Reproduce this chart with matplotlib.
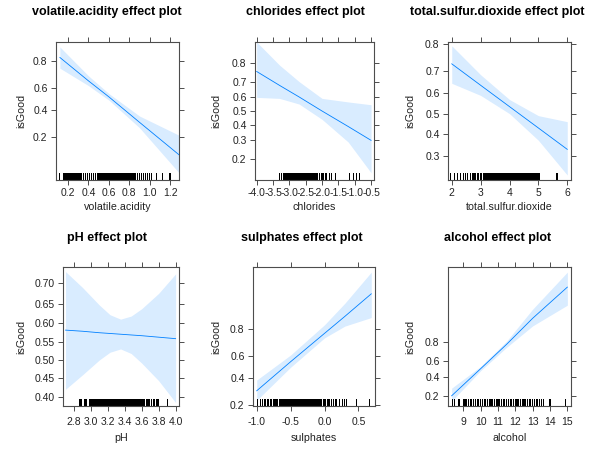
import matplotlib
matplotlib.use("Agg")
import matplotlib.pyplot as plt
from matplotlib.ticker import FixedLocator, FixedFormatter, NullLocator

plt.rcParams["font.family"] = ["Liberation Sans", "DejaVu Sans"]
plt.rcParams["axes.unicode_minus"] = False

W, H = 596, 450
LINE = "#0080FF"
BAND = "#D9ECFF"

# volatile.acidity
va_x = [0.12, 0.4, 0.6, 0.9, 1.29]
va_fit = [0.82, 0.66, 0.52, 0.30, 0.115]
va_lo = [0.755, 0.62, 0.49, 0.26, 0.063]
va_hi = [0.87, 0.70, 0.55, 0.35, 0.21]
va_rug = [0.12, 0.16, 0.18, 0.19, 0.20, 0.21, 0.22, 0.23, 0.24, 0.25, 0.26, 0.27, 0.28, 0.29, 0.30,
          0.31, 0.32, 0.33, 0.35, 0.37, 0.39, 0.41, 0.43, 0.45, 0.47, 0.49, 0.50, 0.51, 0.52, 0.53,
          0.54, 0.55, 0.56, 0.57, 0.58, 0.59, 0.60, 0.61, 0.62, 0.63, 0.64, 0.65, 0.66, 0.67, 0.68,
          0.69, 0.70, 0.71, 0.72, 0.73, 0.74, 0.75, 0.76, 0.77, 0.78, 0.79, 0.80, 0.81, 0.82, 0.83,
          0.84, 0.85, 0.86, 0.88, 0.90, 0.92, 0.94, 0.96, 0.98, 1.00, 1.02, 1.07, 1.13, 1.20]

# chlorides (log)
chl_x = [-4.0, -3.3, -2.7, -2.0, -1.2, -0.5]
chl_fit = [0.758, 0.677, 0.60, 0.50, 0.39, 0.30]
chl_lo = [0.597, 0.59, 0.55, 0.44, 0.29, 0.144]
chl_hi = [0.88, 0.79, 0.70, 0.59, 0.565, 0.545]
chl_rug = [-3.29, -3.24, -3.19, -3.16, -3.13, -3.10, -3.07, -3.04, -3.01, -2.98, -2.95, -2.92, -2.89,
           -2.86, -2.83, -2.80, -2.77, -2.74, -2.71, -2.68, -2.65, -2.62, -2.59, -2.56, -2.53, -2.50,
           -2.47, -2.44, -2.41, -2.38, -2.35, -2.32, -2.29, -2.26, -2.23, -2.20, -2.17, -2.13, -2.08,
           -2.02, -1.97, -1.90, -1.85, -1.78, -1.72, -1.60, -1.15, -1.05, -0.94, -0.84]

# total.sulfur.dioxide (log)
tsd_x = [2, 3, 4, 5, 6]
tsd_fit = [0.73, 0.638, 0.535, 0.429, 0.329]
tsd_lo = [0.647, 0.59, 0.50, 0.37, 0.227]
tsd_hi = [0.795, 0.685, 0.57, 0.49, 0.46]
tsd_rug = [1.95, 2.08, 2.20, 2.30, 2.40, 2.48, 2.56, 2.64, 2.71, 2.77, 2.83, 2.89, 2.94, 3.00, 3.04,
           3.09, 3.14, 3.18, 3.22, 3.26, 3.30, 3.33, 3.37, 3.40, 3.43, 3.47, 3.50, 3.53, 3.56, 3.58,
           3.61, 3.64, 3.67, 3.70, 3.73, 3.76, 3.79, 3.82, 3.85, 3.88, 3.91, 3.94, 3.97, 4.00, 4.03,
           4.06, 4.09, 4.12, 4.15, 4.18, 4.21, 4.24, 4.27, 4.30, 4.33, 4.36, 4.39, 4.42, 4.45, 4.48,
           4.51, 4.54, 4.57, 4.60, 4.63, 4.66, 4.69, 4.72, 4.75, 4.78, 4.81, 4.84, 4.87, 4.90, 4.93,
           4.96, 4.99, 5.02, 5.05, 5.63, 5.67]

# pH
ph_x = [2.7, 2.9, 3.1, 3.225, 3.35, 3.475, 3.6, 3.8, 4.0]
ph_fit = [0.581, 0.578, 0.574, 0.572, 0.570, 0.568, 0.566, 0.562, 0.558]
ph_lo = [0.42, 0.459, 0.50, 0.521, 0.53, 0.5175, 0.491, 0.443, 0.385]
ph_hi = [0.725, 0.689, 0.646, 0.6215, 0.61, 0.618, 0.637, 0.675, 0.72]
ph_rug = [2.86, 2.87, 2.88, 2.89, 2.92, 2.93, 2.94, 2.95, 2.98, 2.99, 3.00, 3.01, 3.02, 3.03, 3.04,
          3.05, 3.06, 3.07, 3.08, 3.09, 3.10, 3.11, 3.12, 3.13, 3.14, 3.15, 3.16, 3.17, 3.18, 3.19,
          3.20, 3.21, 3.22, 3.23, 3.24, 3.25, 3.26, 3.27, 3.28, 3.29, 3.30, 3.31, 3.32, 3.33, 3.34,
          3.35, 3.36, 3.37, 3.38, 3.39, 3.40, 3.41, 3.42, 3.43, 3.44, 3.45, 3.46, 3.47, 3.48, 3.49,
          3.50, 3.51, 3.52, 3.53, 3.54, 3.55, 3.56, 3.57, 3.58, 3.59, 3.60, 3.61, 3.62, 3.63, 3.66,
          3.67, 3.68, 3.69, 3.71, 3.72, 3.74, 3.75, 3.78, 3.80, 3.90]

# sulphates (log)
sul_x = [-1.0, -0.5, 0.0, 0.3, 0.69]
sul_fit = [0.297, 0.55, 0.775, 0.865, 0.936]
sul_lo = [0.23, 0.50, 0.745, 0.818, 0.86]
sul_hi = [0.385, 0.61, 0.825, 0.912, 0.97]
sul_rug = [-0.99, -0.94, -0.92, -0.89, -0.87, -0.84, -0.82, -0.80, -0.78, -0.755, -0.73, -0.71, -0.69,
           -0.67, -0.655, -0.64, -0.625, -0.61, -0.595, -0.58, -0.565, -0.55, -0.535, -0.52, -0.505,
           -0.49, -0.475, -0.46, -0.445, -0.43, -0.415, -0.40, -0.385, -0.37, -0.355, -0.34, -0.325,
           -0.31, -0.295, -0.28, -0.265, -0.25, -0.235, -0.22, -0.205, -0.19, -0.175, -0.16, -0.145,
           -0.13, -0.115, -0.10, -0.085, -0.07, -0.055, -0.04, -0.02, 0.00, 0.02, 0.04, 0.06, 0.08,
           0.10, 0.13, 0.16, 0.18, 0.22, 0.26, 0.30, 0.33, 0.47, 0.67]

# alcohol
alc_x = [8.33, 10, 11.5, 13, 15]
alc_fit = [0.2, 0.5, 0.778, 0.93, 0.985]
alc_lo = [0.16, 0.475, 0.75, 0.90, 0.963]
alc_hi = [0.27, 0.53, 0.805, 0.955, 0.993]
alc_rug = [8.4, 8.5, 8.7, 8.8, 9.0, 9.1, 9.2, 9.3, 9.4, 9.5, 9.6, 9.7, 9.8, 9.9, 10.0, 10.1, 10.2,
           10.3, 10.4, 10.5, 10.6, 10.7, 10.8, 10.9, 11.0, 11.1, 11.2, 11.3, 11.4, 11.5, 11.6, 11.7,
           11.8, 11.9, 12.0, 12.1, 12.2, 12.3, 12.4, 12.5, 12.6, 12.7, 12.8, 12.9, 13.0, 13.1, 13.2,
           13.3, 13.4, 13.5, 13.6, 14.0, 14.9]


def effect_panel(fig, box, title, title_x, title_y, xlab, ylab_x, xpad, xlab_off,
                 x, fit, lo, hi, rug, xlim, ylim, xticks, xlabels, yticks, ylabels):
    l, t, r, b = box
    ax = fig.add_axes([l / W, 1 - b / H, (r - l) / W, (b - t) / H])
    ax.set_yscale("logit")
    ax.set_xlim(xlim)
    ax.set_ylim(ylim)
    ax.set_autoscale_on(False)
    ax.fill_between(x, lo, hi, color=BAND, lw=0)
    ax.plot(x, fit, color=LINE, lw=0.6)
    # rug ticks as ~1px wide aliased bars so dense runs come out solid black
    px = (xlim[1] - xlim[0]) / (r - l)
    ax.bar(rug, 0.05, width=1.1 * px, bottom=0, color="black", linewidth=0,
           antialiased=False, transform=ax.get_xaxis_transform())
    ax.xaxis.set_major_locator(FixedLocator(xticks))
    ax.xaxis.set_major_formatter(FixedFormatter(xlabels))
    ax.yaxis.set_major_locator(FixedLocator(yticks))
    ax.yaxis.set_major_formatter(FixedFormatter(ylabels))
    ax.xaxis.set_minor_locator(NullLocator())
    ax.yaxis.set_minor_locator(NullLocator())
    ax.tick_params(direction="out", length=3.6, width=0.7, pad=2.5, labelsize=7.5,
                   top=True, right=True, colors="#4d4d4d", labelcolor="#222222")
    ax.tick_params(axis="x", pad=xpad)
    for s in ax.spines.values():
        s.set_color("#4d4d4d")
        s.set_linewidth(0.8)
    fig.text(title_x / W, 1 - title_y / H, title, ha="center", va="center",
             fontsize=9, fontweight="bold")
    fig.text((l + r) / 2 / W, 1 - (b + xlab_off) / H, xlab, ha="center", va="center",
             fontsize=7.7, color="#222222")
    fig.text(ylab_x / W, 1 - (t + b) / 2 / H, "isGood", ha="center", va="center",
             rotation=90, fontsize=7.7, color="#222222")
    return ax


fig = plt.figure(figsize=(W / 100, H / 100), dpi=100)

effect_panel(fig, (56, 42, 179, 180), "volatile.acidity effect plot", 106.7, 12,
             "volatile.acidity", 21, 2.5, 27, va_x, va_fit, va_lo, va_hi, va_rug,
             (0.082, 1.288), (0.0495, 0.889),
             [0.2, 0.4, 0.6, 0.8, 1.0, 1.2], ["0.2", "0.4", "0.6", "0.8", "1.0", "1.2"],
             [0.2, 0.4, 0.6, 0.8], ["0.2", "0.4", "0.6", "0.8"])

effect_panel(fig, (255, 42, 374, 180), "chlorides effect plot", 305, 12,
             "chlorides", 216, 2.5, 27, chl_x, chl_fit, chl_lo, chl_hi, chl_rug,
             (-4.05, -0.41), (0.12, 0.88),
             [-4.0, -3.5, -3.0, -2.5, -2.0, -1.5, -1.0, -0.5],
             ["-4.0", "-3.5", "-3.0", "-2.5", "-2.0", "-1.5", "-1.0", "-0.5"],
             [0.2, 0.3, 0.4, 0.5, 0.6, 0.7, 0.8], ["0.2", "0.3", "0.4", "0.5", "0.6", "0.7", "0.8"])

effect_panel(fig, (448, 42, 571, 180), "total.sulfur.dioxide effect plot", 497, 12,
             "total.sulfur.dioxide", 410, 2.5, 27, tsd_x, tsd_fit, tsd_lo, tsd_hi, tsd_rug,
             (1.87, 6.13), (0.21, 0.807),
             [2, 3, 4, 5, 6], ["2", "3", "4", "5", "6"],
             [0.3, 0.4, 0.5, 0.6, 0.7, 0.8], ["0.3", "0.4", "0.5", "0.6", "0.7", "0.8"])

effect_panel(fig, (63, 267, 179, 406), "pH effect plot", 106.7, 238,
             "pH", 21, 4.5, 32, ph_x, ph_fit, ph_lo, ph_hi, ph_rug,
             (2.67, 4.04), (0.376, 0.735),
             [2.8, 3.0, 3.2, 3.4, 3.6, 3.8, 4.0], ["2.8", "3.0", "3.2", "3.4", "3.6", "3.8", "4.0"],
             [0.40, 0.45, 0.50, 0.55, 0.60, 0.65, 0.70],
             ["0.40", "0.45", "0.50", "0.55", "0.60", "0.65", "0.70"])

effect_panel(fig, (253, 267, 375, 406), "sulphates effect plot", 302, 238,
             "sulphates", 216, 4.5, 32, sul_x, sul_fit, sul_lo, sul_hi, sul_rug,
             (-1.055, 0.745), (0.195, 0.975),
             [-1.0, -0.5, 0.0, 0.5], ["-1.0", "-0.5", "0.0", "0.5"],
             [0.2, 0.4, 0.6, 0.8], ["0.2", "0.4", "0.6", "0.8"])

effect_panel(fig, (448, 267, 571, 406), "alcohol effect plot", 498, 238,
             "alcohol", 410, 4.5, 32, alc_x, alc_fit, alc_lo, alc_hi, alc_rug,
             (8.12, 15.21), (0.129, 0.9946),
             [9, 10, 11, 12, 13, 14, 15], ["9", "10", "11", "12", "13", "14", "15"],
             [0.2, 0.4, 0.6, 0.8], ["0.2", "0.4", "0.6", "0.8"])

fig.savefig("out.png", dpi=100)
